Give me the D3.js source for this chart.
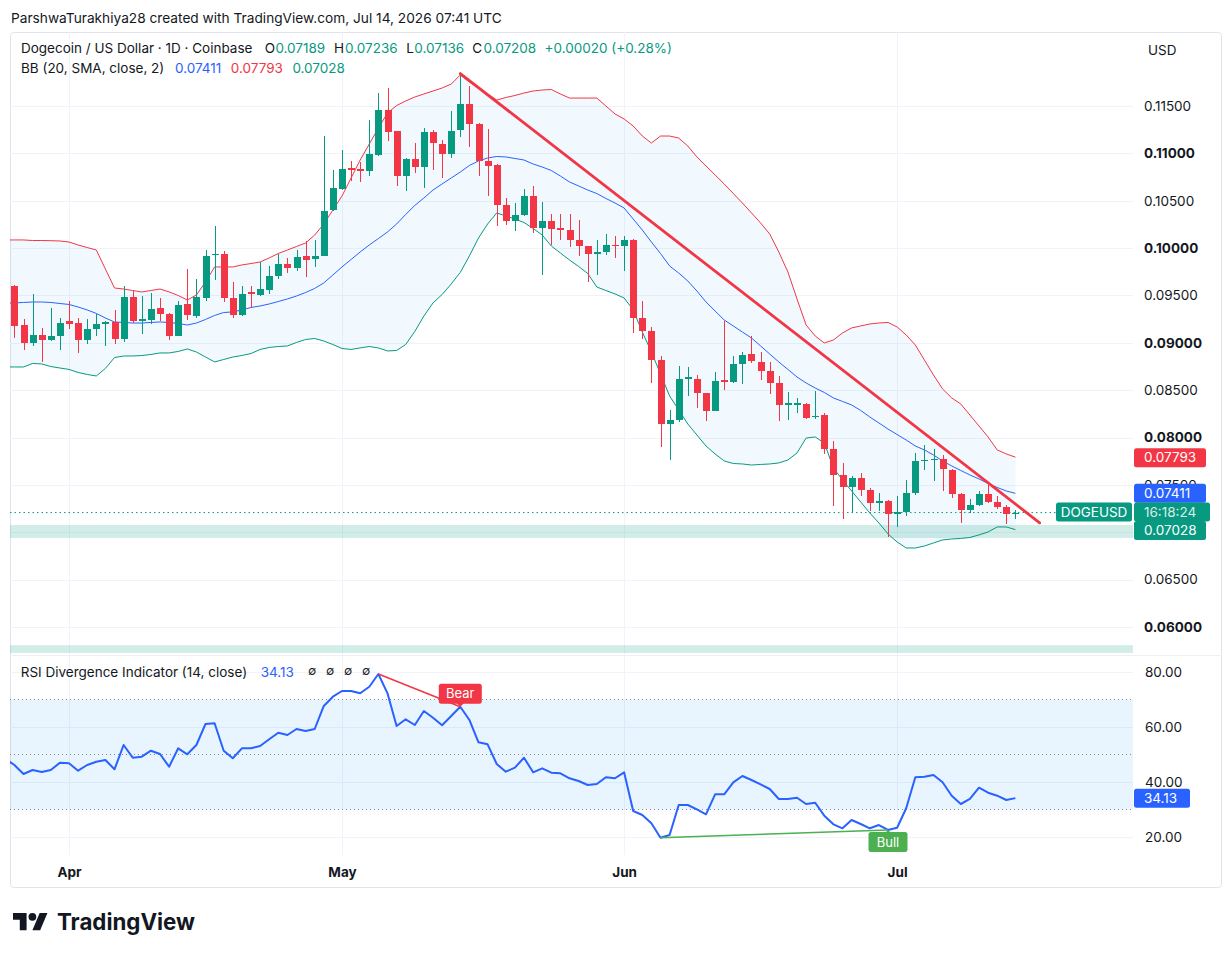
<!DOCTYPE html>
<html><head><meta charset="utf-8">
<script src="https://cdn.jsdelivr.net/npm/d3@7"></script>
<style>
html,body{margin:0;padding:0;background:#fff;}
svg{display:block;font-family:Inter,"Noto Sans",sans-serif;}
</style></head><body>
<svg id="chart" width="1232" height="957"></svg>
<script>
// ---------------- DATA ----------------
const candleStart = "2026-03-26";     // first candle (daily)
const indicatorStart = "2026-03-25";  // indicator arrays start one day earlier (clipped at left edge)
const open = [
0.09604,0.09185,0.08995,0.09083,0.09026,0.09069,0.09227,0.09206,0.09026,0.09147,
0.09200,0.09224,0.09044,0.09480,0.09234,0.09245,0.09364,0.09305,0.09076,0.09411,
0.09287,0.09474,0.09928,0.09934,0.09474,0.09298,0.09533,0.09509,0.09562,0.09709,
0.09833,0.09791,0.09913,0.09889,0.09920,0.10399,0.10625,0.10842,0.10836,0.10810,
0.10987,0.11462,0.11233,0.10765,0.10941,0.10857,0.11226,0.11103,0.10994,0.11243,
0.11525,0.11314,0.10916,0.10881,0.10459,0.10283,0.10346,0.10546,0.10213,0.10283,
0.10213,0.10188,0.10082,0.10019,0.09942,0.09955,0.10037,0.10026,0.10082,0.09263,
0.09121,0.08823,0.08144,0.08189,0.08622,0.08622,0.08471,0.08284,0.08604,0.08587,
0.08777,0.08883,0.08798,0.08707,0.08577,0.08348,0.08348,0.08358,0.08214,0.08242,
0.07880,0.07609,0.07479,0.07574,0.07443,0.07310,0.07327,0.07197,0.07211,0.07416,
0.07757,0.07760,0.07778,0.07661,0.07408,0.07239,0.07285,0.07408,0.07316,0.07264,
0.07189];
const high = [
0.09614,0.09252,0.09519,0.09153,0.09372,0.09263,0.09438,0.09263,0.09252,0.09305,
0.09227,0.09343,0.09596,0.09544,0.09491,0.09527,0.09474,0.09310,0.09438,0.09780,
0.09675,0.09976,0.10237,0.09966,0.09639,0.09596,0.09596,0.09854,0.09815,0.09942,
0.09896,0.09984,0.10071,0.10089,0.11187,0.10828,0.11039,0.10916,0.10905,0.11356,
0.11638,0.11691,0.11240,0.10952,0.11110,0.11268,0.11250,0.11145,0.11444,0.11842,
0.11715,0.11321,0.11261,0.10890,0.10530,0.10477,0.10625,0.10652,0.10483,0.10364,
0.10364,0.10364,0.10301,0.10025,0.10089,0.10153,0.10124,0.10132,0.10097,0.09438,
0.09168,0.08857,0.08295,0.08752,0.08746,0.08664,0.08475,0.08689,0.09227,0.08865,
0.08900,0.09069,0.08900,0.08794,0.08646,0.08482,0.08418,0.08369,0.08488,0.08260,
0.07960,0.07732,0.07598,0.07627,0.07468,0.07416,0.07345,0.07387,0.07556,0.07838,
0.07925,0.07880,0.07820,0.07665,0.07412,0.07352,0.07432,0.07503,0.07380,0.07292,
0.07236];
const low = [
0.09055,0.08921,0.08963,0.08794,0.09016,0.08928,0.09150,0.08893,0.08988,0.09069,
0.08970,0.08988,0.09005,0.09210,0.09094,0.09200,0.09227,0.09026,0.09069,0.09238,
0.09263,0.09445,0.09667,0.09428,0.09263,0.09287,0.09368,0.09491,0.09519,0.09675,
0.09738,0.09755,0.09696,0.09801,0.09913,0.10388,0.10617,0.10705,0.10698,0.10758,
0.10969,0.11127,0.10659,0.10607,0.10793,0.10635,0.10828,0.10741,0.10952,0.11173,
0.11068,0.10765,0.10546,0.10237,0.10248,0.10177,0.10336,0.10160,0.09720,0.10037,
0.10089,0.10012,0.09920,0.09639,0.09720,0.09931,0.09896,0.09755,0.09105,0.09041,
0.08577,0.07901,0.07767,0.08161,0.08435,0.08313,0.08171,0.08284,0.08506,0.08577,
0.08566,0.08788,0.08612,0.08461,0.08171,0.08182,0.08260,0.08197,0.08197,0.07830,
0.07274,0.07141,0.07215,0.07387,0.07221,0.07221,0.06951,0.07057,0.07176,0.07398,
0.07661,0.07538,0.07432,0.07363,0.07099,0.07204,0.07274,0.07310,0.07247,0.07091,
0.07136];
const close = [
0.09182,0.08999,0.09083,0.09026,0.09069,0.09213,0.09203,0.09034,0.09147,0.09195,
0.09224,0.09041,0.09480,0.09227,0.09252,0.09358,0.09305,0.09076,0.09403,0.09295,
0.09480,0.09913,0.09942,0.09474,0.09298,0.09519,0.09519,0.09569,0.09702,0.09833,
0.09791,0.09907,0.09878,0.09920,0.10388,0.10635,0.10836,0.10828,0.10810,0.10994,
0.11462,0.11226,0.10765,0.10941,0.10857,0.11226,0.11110,0.10994,0.11240,0.11525,
0.11314,0.10916,0.10871,0.10459,0.10283,0.10346,0.10546,0.10213,0.10283,0.10202,
0.10195,0.10082,0.10026,0.09942,0.09955,0.10029,0.10019,0.10086,0.09263,0.09121,
0.08823,0.08144,0.08189,0.08619,0.08636,0.08471,0.08284,0.08594,0.08590,0.08777,
0.08875,0.08805,0.08707,0.08577,0.08348,0.08366,0.08366,0.08207,0.08232,0.07880,
0.07609,0.07479,0.07574,0.07443,0.07310,0.07334,0.07194,0.07215,0.07416,0.07749,
0.07767,0.07778,0.07669,0.07408,0.07239,0.07285,0.07408,0.07316,0.07264,0.07194,
0.07208];
const bbUpper = [0.10086,
0.10086,0.10086,0.10080,0.10080,0.10078,0.10075,0.10064,0.10033,0.10006,0.09980,
0.09779,0.09579,0.09568,0.09552,0.09537,0.09552,0.09568,0.09537,0.09500,0.09452,
0.09505,0.09642,0.09801,0.09801,0.09801,0.09822,0.09837,0.09853,0.09896,0.09943,
0.09980,0.10017,0.10054,0.10138,0.10254,0.10402,0.10550,0.10740,0.10930,0.11099,
0.11268,0.11426,0.11505,0.11553,0.11595,0.11627,0.11658,0.11690,0.11732,0.11827,
0.11753,0.11690,0.11627,0.11563,0.11590,0.11611,0.11637,0.11658,0.11669,0.11674,
0.11627,0.11584,0.11584,0.11584,0.11584,0.11500,0.11416,0.11363,0.11289,0.11183,
0.11109,0.11183,0.11183,0.11162,0.11078,0.10962,0.10867,0.10772,0.10677,0.10576,
0.10476,0.10371,0.10265,0.10149,0.09959,0.09748,0.09463,0.09188,0.09072,0.08998,
0.09030,0.09104,0.09157,0.09178,0.09199,0.09209,0.09215,0.09167,0.09083,0.08977,
0.08819,0.08660,0.08513,0.08418,0.08354,0.08238,0.08122,0.08006,0.07869,0.07827,
0.07793];
const bbBasis = [0.09421,
0.09421,0.09426,0.09431,0.09431,0.09426,0.09415,0.09405,0.09378,0.09347,0.09310,
0.09262,0.09220,0.09215,0.09209,0.09209,0.09215,0.09220,0.09215,0.09204,0.09188,
0.09209,0.09246,0.09289,0.09320,0.09326,0.09347,0.09373,0.09389,0.09410,0.09436,
0.09463,0.09494,0.09531,0.09574,0.09632,0.09716,0.09801,0.09880,0.09959,0.10033,
0.10101,0.10170,0.10254,0.10355,0.10450,0.10529,0.10613,0.10677,0.10740,0.10803,
0.10872,0.10920,0.10951,0.10967,0.10962,0.10946,0.10930,0.10888,0.10856,0.10819,
0.10761,0.10698,0.10656,0.10613,0.10576,0.10524,0.10476,0.10423,0.10307,0.10191,
0.10064,0.09943,0.09811,0.09737,0.09653,0.09547,0.09431,0.09336,0.09241,0.09178,
0.09114,0.09051,0.08967,0.08882,0.08798,0.08719,0.08639,0.08576,0.08523,0.08476,
0.08418,0.08381,0.08344,0.08286,0.08217,0.08154,0.08090,0.08032,0.07974,0.07911,
0.07869,0.07816,0.07753,0.07700,0.07652,0.07605,0.07563,0.07515,0.07473,0.07436,
0.07411];
const bbLower = [0.08745,
0.08745,0.08745,0.08782,0.08777,0.08750,0.08734,0.08719,0.08687,0.08666,0.08650,
0.08729,0.08845,0.08861,0.08861,0.08866,0.08877,0.08893,0.08893,0.08909,0.08935,
0.08903,0.08850,0.08798,0.08824,0.08850,0.08866,0.08887,0.08930,0.08951,0.08961,
0.08967,0.09004,0.09035,0.09046,0.09019,0.08982,0.08940,0.08930,0.08946,0.08961,
0.08946,0.08914,0.08919,0.08982,0.09120,0.09283,0.09421,0.09510,0.09621,0.09743,
0.09917,0.10107,0.10254,0.10371,0.10339,0.10307,0.10270,0.10207,0.10138,0.10022,
0.09948,0.09874,0.09806,0.09732,0.09589,0.09552,0.09516,0.09473,0.09347,0.09114,
0.08903,0.08671,0.08439,0.08291,0.08143,0.08027,0.07911,0.07827,0.07753,0.07726,
0.07721,0.07710,0.07716,0.07721,0.07732,0.07763,0.07837,0.07995,0.08006,0.07943,
0.07679,0.07552,0.07436,0.07320,0.07204,0.07098,0.06982,0.06898,0.06834,0.06834,
0.06855,0.06887,0.06919,0.06929,0.06935,0.06945,0.06972,0.07003,0.07056,0.07056,
0.07028];
const rsi = [48.50,
46.18,42.91,44.36,43.64,44.36,47.02,46.80,44.11,46.18,47.38,
48.00,44.62,53.45,48.84,49.20,51.38,50.18,45.56,52.25,50.07,
53.45,61.09,61.35,51.38,48.62,52.25,52.25,53.09,55.53,57.93,
57.09,59.27,58.55,59.27,67.64,71.02,73.09,73.09,72.25,74.65,
79.27,72.25,60.36,62.80,60.73,65.82,63.38,60.62,64.00,67.38,
62.55,54.44,53.71,46.55,43.75,45.20,48.84,43.53,44.98,43.38,
43.16,41.35,40.36,38.91,39.27,41.71,41.35,43.53,29.45,28.00,
24.98,19.75,20.73,31.64,31.64,30.07,28.25,35.53,35.53,39.89,
42.18,40.73,39.16,37.45,33.82,33.82,34.29,32.00,32.47,27.75,
24.62,23.16,26.18,24.73,23.16,24.36,22.55,23.38,30.44,41.71,
41.93,42.55,39.89,35.02,32.00,33.82,37.93,36.11,35.02,33.45,
34.13];
const priceTicks = [0.115,0.110,0.105,0.100,0.095,0.090,0.085,0.080,0.075,0.070,0.065,0.060];
const priceTickLabels = [0.115,0.110,0.105,0.100,0.095,0.090,0.085,0.080,0.075,0.065,0.060]; // 0.07000 hidden under tags
const rsiTicks = [80,60,40,20];
const rsiLevels = [70,50,30];
const monthTicks = ["2026-04-01","2026-05-01","2026-06-01","2026-07-01"];
const zones = [[0.06940,0.07077],[0.05726,0.05808]];
const trendLine = [["2026-05-14T00:00:00Z",0.11842],["2026-07-16T16:00:00Z",0.07100]];
const bearDiv = ["2026-05-05","2026-05-14"];
const bullDiv = ["2026-06-05","2026-06-30"];
const lastPrice = 0.07208;
const countdown = "16:18:24";
const ohlcLegend = {O:"0.07189",H:"0.07236",L:"0.07136",C:"0.07208",chg:"+0.00020 (+0.28%)"};

// ---------------- LAYOUT ----------------
const L=10, R=1133, AXR=1222, PT=32, PB=655, RT=656, RB=855, XB=888;
const UP="#089981", DN="#f23645", BLUE="#2962ff", TXT="#131722", GRID="#f0f3fa";
const parse = d3.utcParse("%Y-%m-%d");
const dayMs = 86400000;
const c0 = parse(candleStart), i0 = parse(indicatorStart);
const candles = open.map((o,i)=>({d:new Date(+c0+i*dayMs),o,h:high[i],l:low[i],c:close[i]}));
const ind = bbBasis.map((b,i)=>({d:new Date(+i0+i*dayMs),b,u:bbUpper[i],lo:bbLower[i],r:rsi[i]}));

const x = d3.scaleUtc().domain([c0, new Date(+c0+110*dayMs)]).range([14.4, 1015.4]);
const y = d3.scaleLinear().domain([0.06,0.115]).range([627,106]);
const yR = d3.scaleLinear().domain([20,80]).range([837,672]);

const svg = d3.select("#chart");
svg.append("rect").attr("width",1232).attr("height",957).attr("fill","#fff");
const defs = svg.append("defs");
defs.append("clipPath").attr("id","cp").append("rect").attr("x",L).attr("y",PT).attr("width",R-L).attr("height",PB-PT);
defs.append("clipPath").attr("id","cr").append("rect").attr("x",L).attr("y",RT).attr("width",R-L).attr("height",RB-RT);

// header
svg.append("text").attr("x",11).attr("y",18).attr("dy","0.35em").attr("fill",TXT)
  .style("font-size","13.7px").text("ParshwaTurakhiya28 created with TradingView.com, Jul 14, 2026 07:41 UTC");

// frame
svg.append("rect").attr("x",L+0.5).attr("y",PT+0.5).attr("width",AXR-L-1).attr("height",XB-PT-1)
  .attr("fill","none").attr("stroke","#e0e3eb").attr("rx",3);
svg.append("line").attr("x1",L).attr("x2",AXR).attr("y1",RT-0.5).attr("y2",RT-0.5).attr("stroke","#eef0f4");

// grids
const gGrid = svg.append("g").attr("shape-rendering","crispEdges");
gGrid.append("g").attr("transform",`translate(${R},0)`)
  .call(d3.axisRight(y).tickValues(priceTicks).tickSize(-(R-L)).tickFormat(""))
  .call(g=>{g.select(".domain").remove();g.selectAll("line").attr("stroke",GRID);});
gGrid.append("g").attr("transform",`translate(${R},0)`)
  .call(d3.axisRight(yR).tickValues(rsiTicks).tickSize(-(R-L)).tickFormat(""))
  .call(g=>{g.select(".domain").remove();g.selectAll("line").attr("stroke",GRID);});
gGrid.append("g").attr("transform",`translate(0,${RB})`)
  .call(d3.axisBottom(x).tickValues(monthTicks.map(parse)).tickSize(-(RB-PT)).tickFormat(""))
  .call(g=>{g.select(".domain").remove();g.selectAll("line").attr("stroke",GRID);});

// ---------------- PRICE PANE ----------------
const gp = svg.append("g").attr("clip-path","url(#cp)");
gp.append("path").datum(ind).attr("fill","rgba(33,150,243,0.06)")
  .attr("d",d3.area().x(d=>x(d.d)).y0(d=>y(d.lo)).y1(d=>y(d.u)));
[["u",DN],["b",BLUE],["lo",UP]].forEach(([k,col])=>{
  gp.append("path").datum(ind).attr("fill","none").attr("stroke",col).attr("stroke-width",1)
    .attr("d",d3.line().x(d=>x(d.d)).y(d=>y(d[k])));
});
// zones
gp.selectAll("rect.zone").data(zones).join("rect").attr("class","zone")
  .attr("x",L).attr("width",R-L).attr("y",d=>y(d[1])).attr("height",d=>y(d[0])-y(d[1]))
  .attr("fill","rgba(8,153,129,0.18)");
// last price dotted line
gp.append("line").attr("x1",L).attr("x2",1056).attr("y1",y(lastPrice)).attr("y2",y(lastPrice))
  .attr("stroke",UP).attr("stroke-dasharray","1.5,3");
// candles
const bw = 6.6;
const gc = gp.append("g").attr("shape-rendering","crispEdges");
gc.selectAll("line").data(candles).join("line")
  .attr("x1",d=>Math.round(x(d.d))+0.5).attr("x2",d=>Math.round(x(d.d))+0.5)
  .attr("y1",d=>y(d.h)).attr("y2",d=>y(d.l)).attr("stroke",d=>d.c>=d.o?UP:DN);
gc.selectAll("rect").data(candles).join("rect")
  .attr("x",d=>Math.round(x(d.d))+0.5-bw/2).attr("width",bw)
  .attr("y",d=>y(Math.max(d.o,d.c))).attr("height",d=>Math.max(1,Math.abs(y(d.o)-y(d.c))))
  .attr("fill",d=>d.c>=d.o?UP:DN);
// trend line
gp.append("path").datum(trendLine).attr("fill","none").attr("stroke",DN).attr("stroke-width",2.8)
  .attr("stroke-linecap","round")
  .attr("d",d3.line().x(d=>x(new Date(d[0]))).y(d=>y(d[1])));

// ---------------- RSI PANE ----------------
const gr = svg.append("g").attr("clip-path","url(#cr)");
gr.append("rect").attr("x",L).attr("width",R-L).attr("y",yR(70)).attr("height",yR(30)-yR(70))
  .attr("fill","rgba(33,150,243,0.1)");
gr.selectAll("line.lvl").data(rsiLevels).join("line").attr("class","lvl")
  .attr("x1",L).attr("x2",R).attr("y1",d=>yR(d)).attr("y2",d=>yR(d))
  .attr("stroke","#868993").attr("stroke-dasharray","1,3");
gr.append("path").datum(ind).attr("fill","none").attr("stroke",BLUE).attr("stroke-width",2)
  .attr("stroke-linejoin","round").attr("d",d3.line().x(d=>x(d.d)).y(d=>yR(d.r)));
const rsiAt = s => ind.find(d=>+d.d===+parse(s)).r;
function divLine(pair,col){
  gr.append("line").attr("x1",x(parse(pair[0]))).attr("y1",yR(rsiAt(pair[0])))
    .attr("x2",x(parse(pair[1]))).attr("y2",yR(rsiAt(pair[1]))).attr("stroke",col).attr("stroke-width",1.6);
}
divLine(bearDiv,DN); divLine(bullDiv,"#4caf50");
// Bear label (above pivot)
{
  const cx=x(parse(bearDiv[1])), py=yR(rsiAt(bearDiv[1]));
  const g=svg.append("g");
  g.append("path").attr("d",`M${cx-4},${py-4}L${cx},${py}L${cx+4},${py-4}Z`).attr("fill",DN);
  g.append("rect").attr("x",cx-21.5).attr("y",py-23).attr("width",43).attr("height",20).attr("rx",2.5).attr("fill",DN);
  g.append("text").attr("x",cx).attr("y",py-13).attr("dy","0.35em").attr("text-anchor","middle")
    .attr("fill","#fff").style("font-size","13px").text("Bear");
}
// Bull label (below pivot)
{
  const cx=x(parse(bullDiv[1])), py=yR(rsiAt(bullDiv[1]));
  const g=svg.append("g");
  g.append("path").attr("d",`M${cx-4},${py+4}L${cx},${py}L${cx+4},${py+4}Z`).attr("fill","#4caf50");
  g.append("rect").attr("x",cx-19.5).attr("y",py+2).attr("width",39).attr("height",20).attr("rx",2.5).attr("fill","#4caf50");
  g.append("text").attr("x",cx).attr("y",py+12).attr("dy","0.35em").attr("text-anchor","middle")
    .attr("fill","#fff").style("font-size","13px").text("Bull");
}

// ---------------- AXES ----------------
const fmtP = d3.format(".5f");
svg.append("g").attr("transform",`translate(${R},0)`)
  .call(d3.axisRight(y).tickValues(priceTickLabels).tickFormat(fmtP).tickSize(0).tickPadding(11))
  .call(g=>{g.select(".domain").remove();
    g.selectAll("text").attr("fill",TXT).style("font-size","13.5px").style("font-family","Inter")
     .style("font-weight",d=>Math.abs(d*100-Math.round(d*100))<1e-9?"700":"400");});
svg.append("g").attr("transform",`translate(${R},0)`)
  .call(d3.axisRight(yR).tickValues(rsiTicks).tickFormat(d3.format(".2f")).tickSize(0).tickPadding(12))
  .call(g=>{g.select(".domain").remove();
    g.selectAll("text").attr("fill",TXT).style("font-size","13.5px").style("font-family","Inter");});
svg.append("g").attr("transform",`translate(0,872)`)
  .call(d3.axisBottom(x).tickValues(monthTicks.map(parse)).tickFormat(d3.utcFormat("%b")).tickSize(0).tickPadding(0))
  .call(g=>{g.select(".domain").remove();
    g.selectAll("text").attr("y",0).attr("dy","0.35em").attr("fill",TXT)
     .style("font-size","13.5px").style("font-weight","700").style("font-family","Inter");});
svg.append("text").attr("x",1148).attr("y",50).attr("dy","0.35em").attr("fill",TXT)
  .style("font-size","13.5px").text("USD");

// right-side value tags
function tag(x0,x1,yc,fill,text,tcol,center){
  const g=svg.append("g");
  g.append("rect").attr("x",x0).attr("y",yc-9.5).attr("width",x1-x0).attr("height",19).attr("rx",2.5).attr("fill",fill);
  g.append("text").attr("x",center?(x0+x1)/2:x0+10).attr("y",yc).attr("dy","0.35em")
    .attr("text-anchor",center?"middle":"start").attr("fill",tcol||"#fff")
    .style("font-size","13.5px").text(text);
}
tag(1134,1206,y(bbUpper[bbUpper.length-1])+0.5,DN,fmtP(bbUpper[bbUpper.length-1]));
tag(1134,1206,y(bbBasis[bbBasis.length-1]),BLUE,fmtP(bbBasis[bbBasis.length-1]));
tag(1134,1210,y(lastPrice)-0.5,UP,countdown,"rgba(255,255,255,0.85)");
tag(1134,1206,y(lastPrice)+18,UP,fmtP(bbLower[bbLower.length-1]));
tag(1056,1132,y(lastPrice)-0.5,UP,"DOGEUSD","#fff",true);
tag(1134,1190,yR(rsi[rsi.length-1]),BLUE,d3.format(".2f")(rsi[rsi.length-1]));

// ---------------- LEGENDS ----------------
function txt(xp,yp,s,col,size){
  svg.append("text").attr("x",xp).attr("y",yp).attr("dy","0.35em").attr("fill",col)
    .style("font-size",(size||13.5)+"px").text(s);
}
txt(21,48,"Dogecoin / US Dollar · 1D · Coinbase",TXT);
txt(264.7,48,"O",TXT); txt(275.4,48,ohlcLegend.O,UP);
txt(333.9,48,"H",TXT); txt(345.1,48,ohlcLegend.H,UP);
txt(406.3,48,"L",TXT); txt(414.3,48,ohlcLegend.L,UP);
txt(472.3,48,"C",TXT); txt(483.5,48,ohlcLegend.C,UP);
txt(544.6,48,ohlcLegend.chg,UP);
txt(21,68,"BB (20, SMA, close, 2)",TXT);
txt(175,68,fmtP(bbBasis[bbBasis.length-1]),BLUE);
txt(230.8,68,fmtP(bbUpper[bbUpper.length-1]),DN);
txt(292.4,68,fmtP(bbLower[bbLower.length-1]),UP);
txt(20.7,672,"RSI Divergence Indicator (14, close)",TXT);
txt(260.7,672,d3.format(".2f")(rsi[rsi.length-1]),BLUE);
[308,326,344,362].forEach(px=>txt(px,671,"∅",TXT,12));

// ---------------- LOGO ----------------
const logo = svg.append("g").attr("transform","translate(13,909) scale(0.97)").attr("fill",TXT);
logo.append("path").attr("d","M14 22H7V11H0V4h14v18z");
logo.append("path").attr("d","M28 22h-8l7.5-18h8L28 22z");
logo.append("circle").attr("cx",20).attr("cy",8).attr("r",4);
svg.append("text").attr("x",57).attr("y",930).attr("fill",TXT)
  .style("font-size","22.3px").style("font-weight","700").text("TradingView");
</script></body></html>
